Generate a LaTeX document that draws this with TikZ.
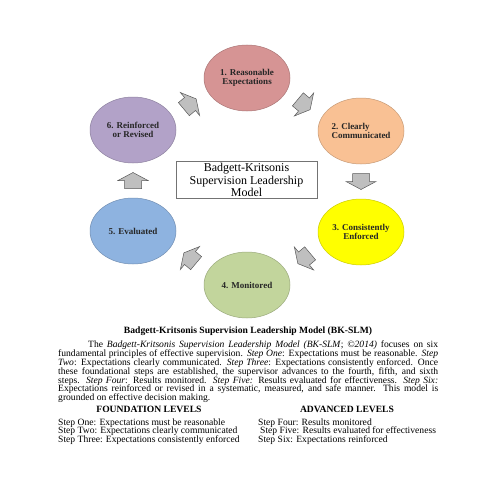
\documentclass[tikz,border=0pt]{standalone}
\usepackage{fontspec}
\setmainfont{Liberation Serif}
\usetikzlibrary{shapes.geometric,calc}
\definecolor{stepred}{HTML}{D69494}
\definecolor{steppeach}{HTML}{F9C194}
\definecolor{stepyellow}{HTML}{FFFF00}
\definecolor{stepgreen}{HTML}{C2D59C}
\definecolor{stepblue}{HTML}{8EB3E0}
\definecolor{steppurple}{HTML}{B2A2C8}
\newcommand{\capfont}[1]{\fontsize{9.6}{#1}\selectfont\lineskiplimit=-20pt\lineskip=0pt}
\tikzset{
  stage/.style={ellipse,fill=#1,draw=#1!80!black,line width=0.5pt,
    minimum width=86pt,minimum height=66pt,inner sep=0pt,align=center,
    text=black!85,font=\fontsize{9}{8.8}\selectfont\bfseries},
  flowarrow/.pic={
    \draw[fill=black!25,draw=black!65,line width=0.5pt]
      (-8,-8.5) -- (0,-8.5) -- (0,-15) -- (8,0) -- (0,15) -- (0,8.5) -- (-8,8.5) -- cycle;},
  captext/.style={inner sep=0pt,font=\capfont{8.8}}
}
\begin{document}
\begin{tikzpicture}[x=1pt,y=-1pt]
  \useasboundingbox (0,0) rectangle (495,495);
  \node[stage=stepred] (s1) at (247,78) {1. Reasonable\\Expectations};
  \node[stage=steppeach,align=left] (s2) at (361,131) {2. Clearly\\Communicated};
  \node[stage=stepyellow] (s3) at (361,232) {3. Consistently\\Enforced};
  \node[stage=stepgreen] (s4) at (247,285) {4. Monitored};
  \node[stage=stepblue] (s5) at (133,231) {5. Evaluated};
  \node[stage=steppurple] (s6) at (133,130) {6. Reinforced\\or Revised};
  \node[draw=black!55,line width=0.5pt,minimum width=141pt,minimum height=37pt,
    inner sep=0pt,align=center,font=\fontsize{12}{12.5}\selectfont]
    (model) at (246.5,180) {Badgett-Kritsonis\\Supervision Leadership\\Model};
  \pic[rotate=-40] (a12) at ($(s1)!0.5!(s2)$) {flowarrow};
  \pic[rotate=-90] (a23) at ($(s2)!0.5!(s3)$) {flowarrow};
  \pic[rotate=-140] (a34) at ($(s3)!0.5!(s4)$) {flowarrow};
  \pic[rotate=140] (a45) at ($(s4)!0.5!(s5)$) {flowarrow};
  \pic[rotate=90] (a56) at ($(s5)!0.5!(s6)$) {flowarrow};
  \pic[rotate=40] (a61) at ($(s6)!0.5!(s1)$) {flowarrow};
  \node[captext,anchor=base,font=\capfont{8.8}\bfseries] (caption) at (248,333)
    {Badgett-Kritsonis Supervision Leadership Model (BK-SLM)};
  \node[captext,anchor=north west,text width=380pt,align=justify] (summary) at (58,341)
    {\hspace*{30pt}The \textit{Badgett-Kritsonis Supervision Leadership Model (BK-SLM}; \textit{©2014)} focuses on six\linebreak
    fundamental principles of effective supervision. \textit{Step One}: Expectations must be reasonable. \textit{Step}\linebreak
    \textit{Two}: Expectations clearly communicated. \textit{Step Three}: Expectations consistently enforced. Once\linebreak
    these foundational steps are established, the supervisor advances to the fourth, fifth, and sixth\linebreak
    steps. \textit{Step Four}: Results monitored. \textit{Step Five:} Results evaluated for effectiveness. \textit{Step Six:}\linebreak
    Expectations reinforced or revised in a systematic, measured, and safe manner. This model is\linebreak
    grounded on effective decision making.};
  \node[captext,anchor=base,font=\capfont{8.8}\bfseries] (foundation) at (149,412) {FOUNDATION LEVELS};
  \node[captext,anchor=base,font=\capfont{8.8}\bfseries] (advanced) at (347,412) {ADVANCED LEVELS};
  \node[captext,anchor=north west,align=left,font=\capfont{8.4}] (lowsteps) at (58,418.5)
    {Step One: Expectations must be reasonable\\
     Step Two: Expectations clearly communicated\\
     Step Three: Expectations consistently enforced};
  \node[captext,anchor=north west,align=left,font=\capfont{8.4}] (highsteps) at (258,418.5)
    {Step Four: Results monitored\\
     \hspace*{2pt}Step Five: Results evaluated for effectiveness\\
     Step Six: Expectations reinforced};
\end{tikzpicture}
\end{document}
